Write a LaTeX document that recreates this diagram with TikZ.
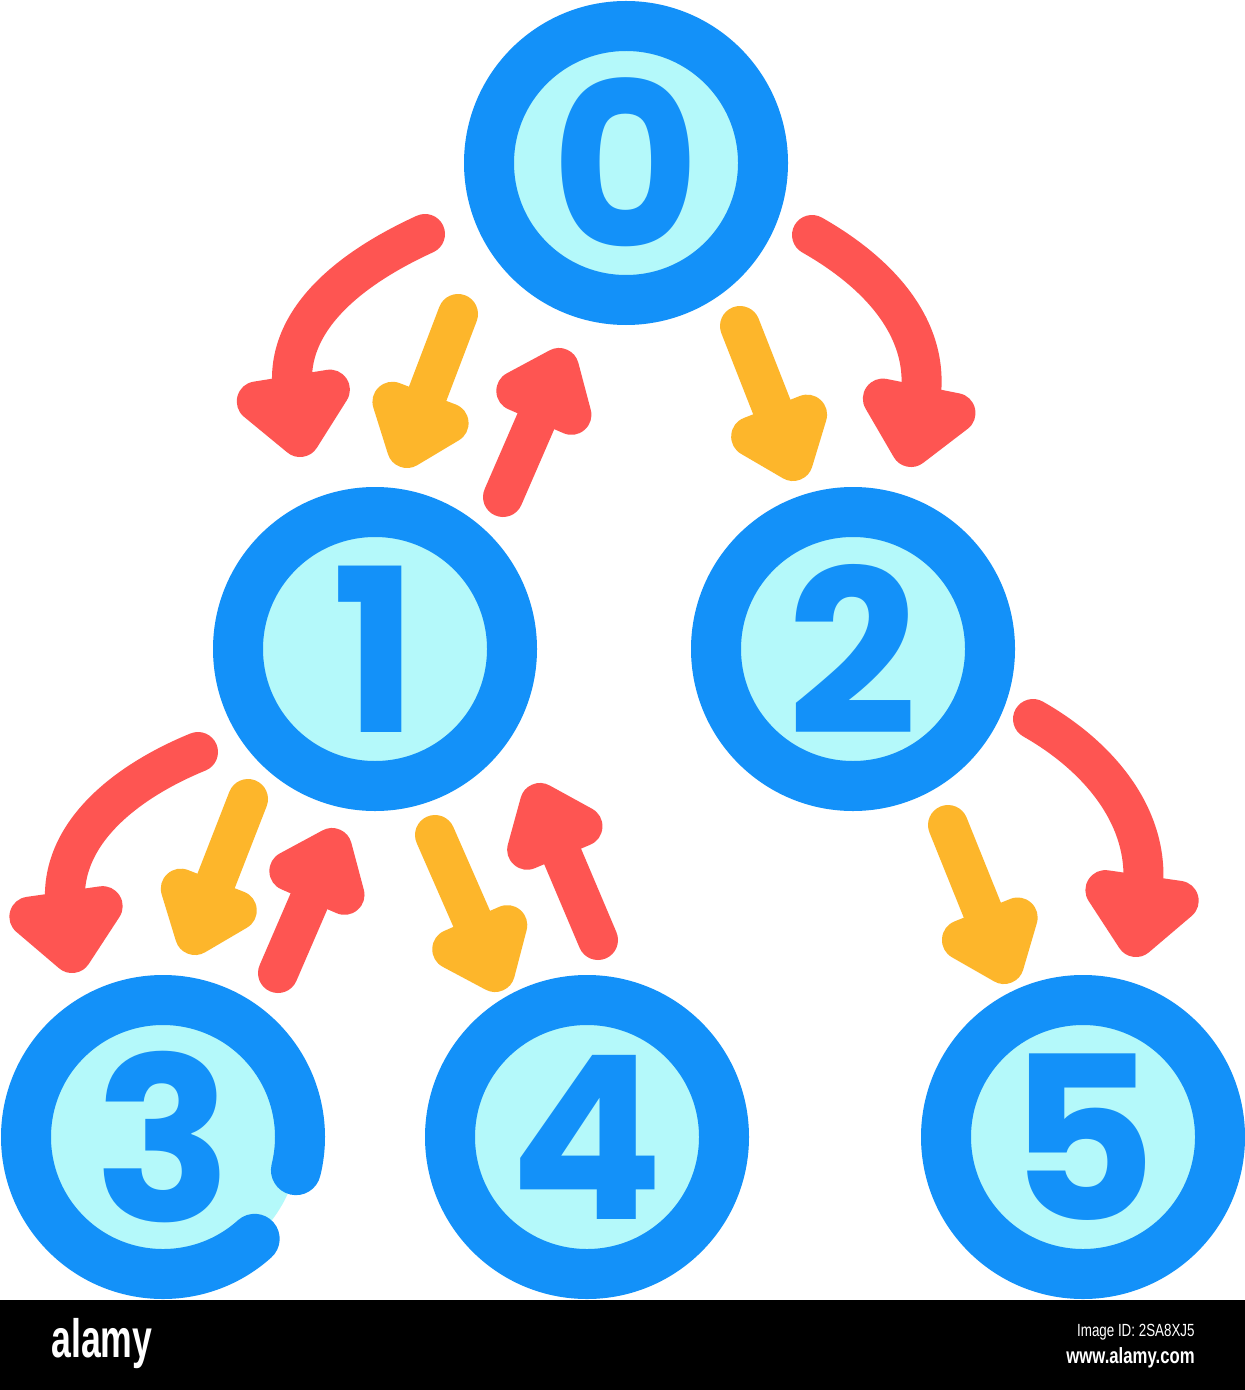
\documentclass[tikz,border=0pt]{standalone}
\usepackage{fontspec}
\usepackage{tikz}
\usetikzlibrary{calc}

\newfontfamily\digitfont{Poppins}
\newfontfamily\barfont{Liberation Sans}[FakeStretch=0.76]
\newfontfamily\logofont{Liberation Sans}[FakeStretch=0.66]

\definecolor{ringblue}{HTML}{1391F9}
\definecolor{fillcyan}{HTML}{B4F9FA}
\definecolor{arrred}{HTML}{FE5552}
\definecolor{arryellow}{HTML}{FDB62B}

% arrow head: colour, base, tip, half width
\newcommand{\headtip}[4]{%
  \filldraw[headfill,#1] ($(#2)!#4!90:(#3)$) -- (#3) -- ($(#2)!#4!-90:(#3)$) -- cycle;}
% straight arrow: colour, start, tip
\newcommand{\linkarrow}[3]{%
  \coordinate (hb) at ($(#3)!19pt!(#2)$);
  \draw[arrowstem,#1] (#2) -- (hb);
  \headtip{#1}{hb}{#3}{15pt}}
% bent arrow: colour, start, control 1, control 2, tip
\newcommand{\bendarrow}[5]{%
  \coordinate (hb) at ($(#5)!21pt!(#4)$);
  \draw[arrowstem,#1] (#2) .. controls (#3) and (#4) .. (hb);
  \headtip{#1}{hb}{#5}{18.5pt}}

\begin{document}
\begin{tikzpicture}[x=0.5pt,y=-0.5pt,
    ringnode/.style={circle,minimum size=137pt,inner sep=0pt,fill=fillcyan,
      draw=ringblue,line width=25pt,text=ringblue,
      font=\digitfont\bfseries\fontsize{114pt}{114pt}\selectfont},
    ringline/.style={draw=ringblue,line width=25pt,line cap=round},
    arrowstem/.style={line width=20pt,line cap=round},
    headfill/.style={line width=20pt,line join=round},
    redarr/.style={color=arrred},
    yelarr/.style={color=arryellow}]
    \useasboundingbox (0,0) rectangle (1245,1390);
    \fill[white] (0,0) rectangle (1245,1390);

    % the tree
    \node[ringnode] (n0) at (626,163) {0};
    \node[ringnode] (n1) at (375,649) {1};
    \node[ringnode] (n2) at (853,649) {2};
    \node[ringnode,draw=none] (n3) at (163,1137) {3};
    \draw[ringline] ($(n3)+(48:137)$) arc[start angle=48,end angle=374,radius=137];
    \node[ringnode] (n4) at (587,1137) {4};
    \node[ringnode] (n5) at (1083,1137) {5};

    % arrow ends
    \coordinate (r0ls) at (425,234);  \coordinate (r0lt) at (300,437);
    \coordinate (r0rs) at (812,235);  \coordinate (r0rt) at (911,447);
    \coordinate (r1ls) at (198,752);  \coordinate (r1lt) at (72,953);
    \coordinate (r2rs) at (1033,719); \coordinate (r2rt) at (1136,937);
    \coordinate (y01s) at (458,314);  \coordinate (y01t) at (407,448);
    \coordinate (y02s) at (740,326);  \coordinate (y02t) at (793,461);
    \coordinate (y13s) at (248,799);  \coordinate (y13t) at (195,935);
    \coordinate (y14s) at (435,835);  \coordinate (y14t) at (495,972);
    \coordinate (y25s) at (948,825);  \coordinate (y25t) at (1004,964);
    \coordinate (r10s) at (503,497);  \coordinate (r10t) at (559,368);
    \coordinate (r31s) at (278,973);  \coordinate (r31t) at (332,848);
    \coordinate (r41s) at (598,940);  \coordinate (r41t) at (540,803);

    % bent arrows
    \bendarrow{redarr}{r0ls}{355,266}{281,319}{r0lt}
    \bendarrow{redarr}{r0rs}{879,273}{934,331}{r0rt}
    \bendarrow{redarr}{r1ls}{127,781}{55,835}{r1lt}
    \bendarrow{redarr}{r2rs}{1100,757}{1153,820}{r2rt}

    % down and up arrows
    \linkarrow{yelarr}{y01s}{y01t}
    \linkarrow{yelarr}{y02s}{y02t}
    \linkarrow{yelarr}{y13s}{y13t}
    \linkarrow{yelarr}{y14s}{y14t}
    \linkarrow{yelarr}{y25s}{y25t}
    \linkarrow{redarr}{r10s}{r10t}
    \linkarrow{redarr}{r31s}{r31t}
    \linkarrow{redarr}{r41s}{r41t}

    % bottom strip
    \fill[black] (0,1300) rectangle (1245,1390);
    \node[white,anchor=west,inner sep=0pt,font=\logofont\bfseries\fontsize{27pt}{27pt}\selectfont] (logo) at (51,1344) {alamy};
    \node[white,anchor=east,inner sep=0pt,font=\barfont\fontsize{8.8pt}{9pt}\selectfont] (imgid) at (1195,1332) {Image ID: 2SA8XJ5};
    \node[white,anchor=east,inner sep=0pt,font=\barfont\bfseries\fontsize{11pt}{11pt}\selectfont] (site) at (1195,1358) {www.alamy.com};
\end{tikzpicture}
\end{document}
